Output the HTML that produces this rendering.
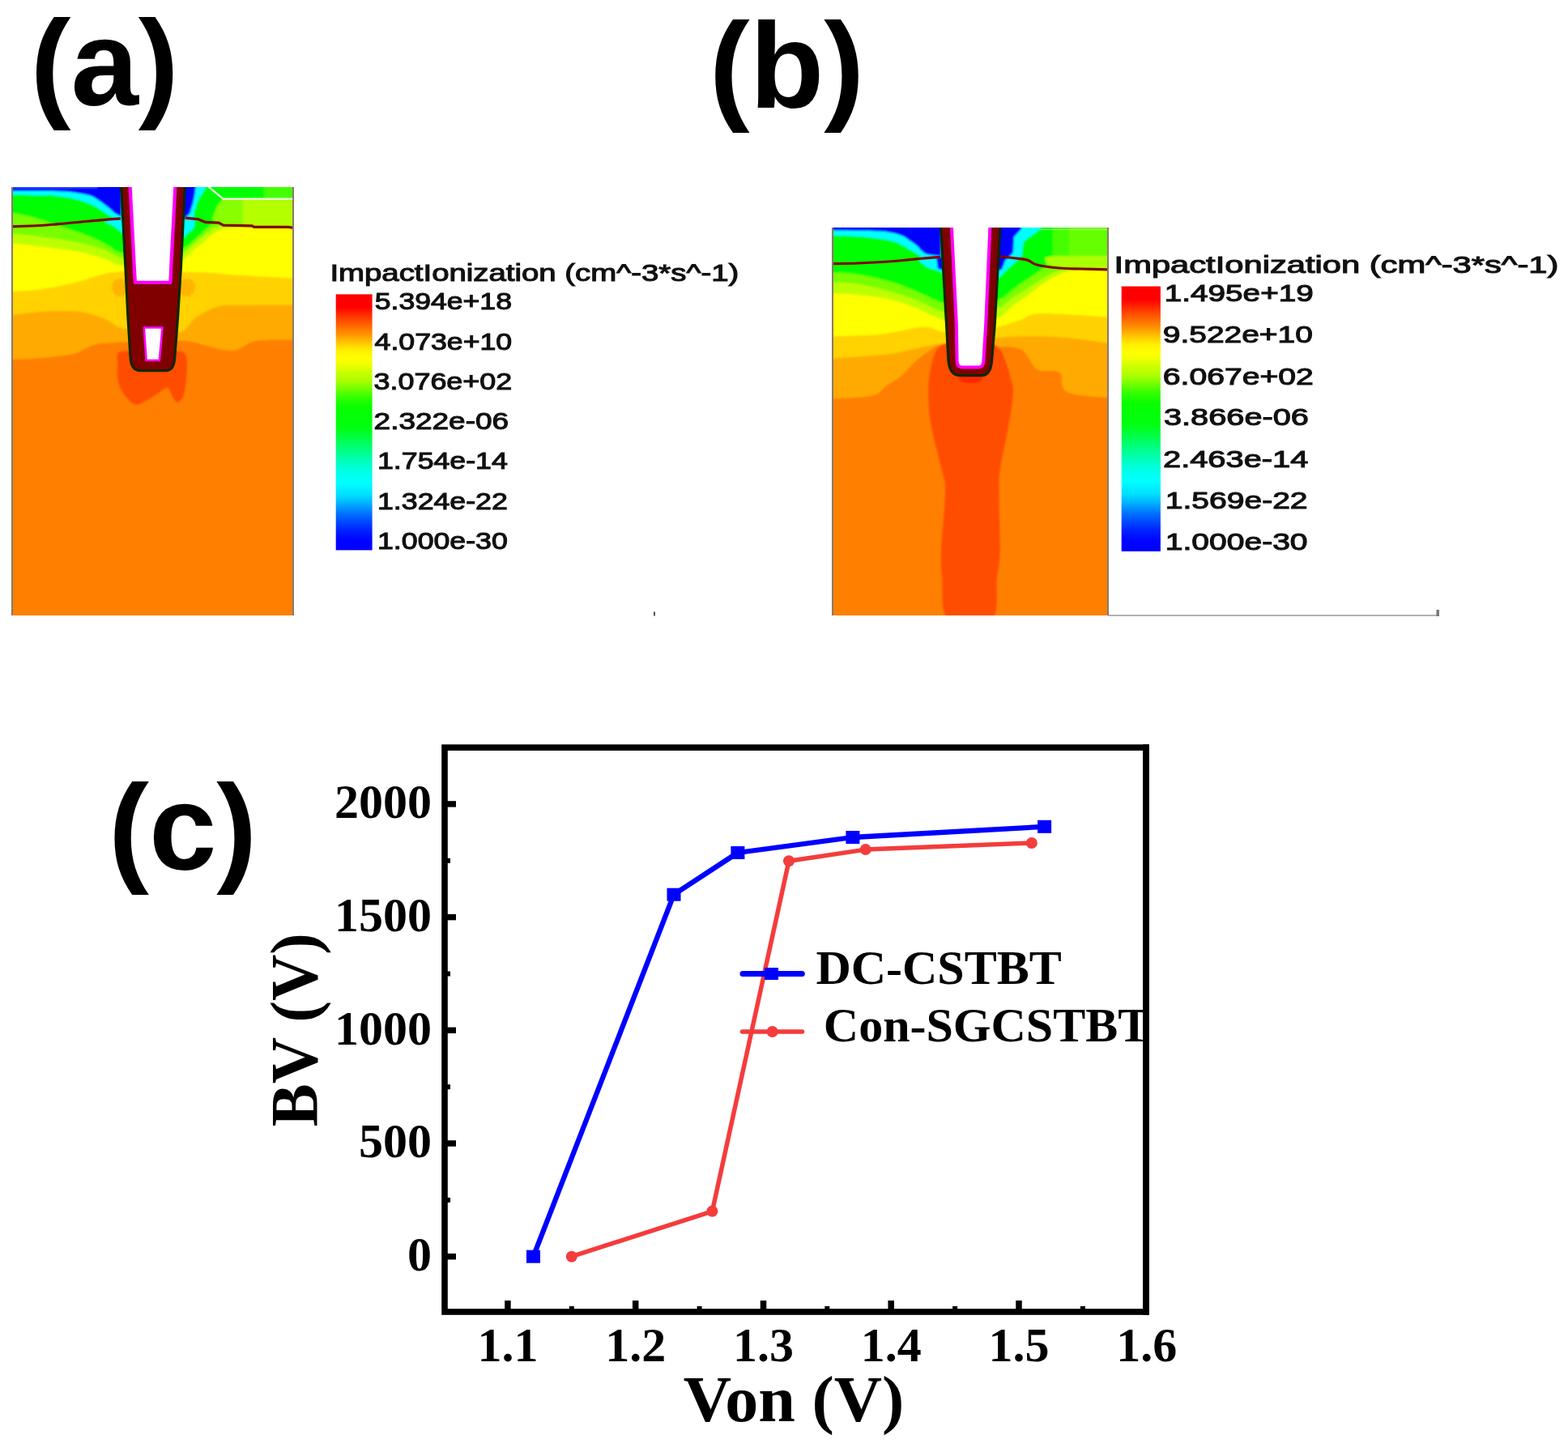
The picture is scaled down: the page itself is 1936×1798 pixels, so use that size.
<!DOCTYPE html>
<html><head><meta charset="utf-8"><title>Figure</title>
<style>
html,body{margin:0;padding:0;background:#fff;}
body{width:1936px;height:1798px;overflow:hidden;}
svg{display:block;}
.lab{font-family:"Liberation Sans",Arial,sans-serif;font-weight:bold;font-size:150px;fill:#000;}
.leg{font-family:"Liberation Sans",Arial,sans-serif;font-weight:normal;font-size:29px;fill:#111;stroke:#111;stroke-width:1.1px;}
.legt{font-size:29.5px;}
.tk{font-family:"Liberation Serif","Times New Roman",serif;font-weight:bold;font-size:60px;fill:#000;}
.ax{font-family:"Liberation Serif","Times New Roman",serif;font-weight:bold;font-size:80px;fill:#000;}
</style></head>
<body>
<svg width="1936" height="1798" viewBox="0 0 1936 1798">
<defs><linearGradient id="cb" x1="0" y1="0" x2="0" y2="1"><stop offset="0.0" stop-color="#FF0000"/><stop offset="0.05" stop-color="#FF0000"/><stop offset="0.075" stop-color="#FF2400"/><stop offset="0.1" stop-color="#FF4800"/><stop offset="0.13" stop-color="#FF7000"/><stop offset="0.16" stop-color="#FF9800"/><stop offset="0.19" stop-color="#FFC800"/><stop offset="0.22" stop-color="#FFF000"/><stop offset="0.25" stop-color="#FFFF00"/><stop offset="0.27" stop-color="#F4FF00"/><stop offset="0.3" stop-color="#D0FF00"/><stop offset="0.34" stop-color="#A8FF00"/><stop offset="0.37" stop-color="#70FF00"/><stop offset="0.4" stop-color="#38FF00"/><stop offset="0.44" stop-color="#08FF00"/><stop offset="0.52" stop-color="#00FF10"/><stop offset="0.56" stop-color="#00FF40"/><stop offset="0.607" stop-color="#00FF80"/><stop offset="0.648" stop-color="#00FFB4"/><stop offset="0.689" stop-color="#00FFE4"/><stop offset="0.736" stop-color="#00FFFF"/><stop offset="0.783" stop-color="#00E0FF"/><stop offset="0.818" stop-color="#00B0FF"/><stop offset="0.853" stop-color="#0078FF"/><stop offset="0.889" stop-color="#0048FF"/><stop offset="0.924" stop-color="#0020FF"/><stop offset="0.96" stop-color="#0004FF"/><stop offset="1.0" stop-color="#0000FF"/></linearGradient>
<clipPath id="clipC"><rect x="0" y="0" width="1415" height="1798"/></clipPath>
<filter id="bl" x="-5%" y="-5%" width="110%" height="110%"><feGaussianBlur stdDeviation="1.2"/></filter>
</defs>
<rect width="1936" height="1798" fill="#fff"/>
<g id="pa"><clipPath id="clipA"><rect x="15.0" y="231.0" width="347.0" height="529.0"/></clipPath>
<g clip-path="url(#clipA)"><g filter="url(#bl)">
<rect x="10.0" y="226.0" width="357.0" height="539.0" fill="#FF7F00"/>
<path d="M10.0,443.6 C15.0,443.5 30.0,443.6 40.0,443.0 C50.0,442.4 61.0,441.2 70.0,440.0 C79.0,438.8 86.5,438.3 94.0,436.0 C101.5,433.7 107.3,428.2 115.0,426.0 C122.7,423.8 128.3,423.7 140.0,423.0 C151.7,422.3 170.2,422.3 185.0,422.0 C199.8,421.7 217.3,420.2 229.0,421.0 C240.7,421.8 247.3,425.2 255.0,427.0 C262.7,428.8 268.8,431.2 275.0,432.0 C281.2,432.8 285.0,433.8 292.0,432.0 C299.0,430.2 304.5,423.1 317.0,421.0 C329.5,418.9 358.7,419.8 367.0,419.5 L367.0,226.0 L10.0,226.0 Z" fill="#FFAA00"/>
<path d="M10.0,389.7 C16.7,388.9 38.3,385.9 50.0,385.0 C61.7,384.1 70.8,383.8 80.0,384.0 C89.2,384.2 96.7,384.3 105.0,386.0 C113.3,387.7 122.5,390.8 130.0,394.0 C137.5,397.2 140.8,402.3 150.0,405.0 C159.2,407.7 172.8,409.2 185.0,410.0 C197.2,410.8 213.5,413.0 223.0,410.0 C232.5,407.0 234.2,397.2 242.0,392.0 C249.8,386.8 260.3,381.0 270.0,378.5 C279.7,376.0 283.8,377.3 300.0,377.0 C316.2,376.7 355.8,376.8 367.0,376.7 L367.0,226.0 L10.0,226.0 Z" fill="#FFD200"/>
<path d="M10.0,360.0 C15.0,359.8 30.0,359.5 40.0,358.5 C50.0,357.5 60.0,355.9 70.0,354.0 C80.0,352.1 90.8,349.5 100.0,347.0 C109.2,344.5 117.5,340.8 125.0,339.0 C132.5,337.2 135.0,336.7 145.0,336.0 C155.0,335.3 171.0,335.0 185.0,335.0 C199.0,335.0 216.5,335.7 229.0,336.0 C241.5,336.3 250.0,336.4 260.0,337.0 C270.0,337.6 271.2,338.3 289.0,339.5 C306.8,340.7 354.0,343.2 367.0,344.0 L367.0,226.0 L10.0,226.0 Z" fill="#FFFF00"/>
<path d="M10.0,300.0 C15.0,300.5 30.0,301.8 40.0,303.0 C50.0,304.2 59.5,305.5 70.0,307.0 C80.5,308.5 93.0,309.8 103.0,312.0 C113.0,314.2 122.2,317.3 130.0,320.0 C137.8,322.7 140.8,327.0 150.0,328.0 C159.2,329.0 173.0,326.9 185.0,326.0 C197.0,325.1 212.8,325.8 222.0,322.8 C231.2,319.8 235.1,312.0 240.0,308.0 C244.9,304.0 248.0,301.7 251.7,298.7 C255.4,295.7 258.1,292.6 262.0,290.0 C265.9,287.4 268.7,284.5 275.0,283.0 C281.3,281.5 284.7,281.2 300.0,281.0 C315.3,280.8 355.8,281.8 367.0,282.0 L367.0,226.0 L10.0,226.0 Z" fill="#BBFF00"/>
<path d="M10.0,288.0 C15.0,288.5 30.0,289.8 40.0,291.0 C50.0,292.2 59.5,293.3 70.0,295.0 C80.5,296.7 93.0,298.7 103.0,301.0 C113.0,303.3 122.2,306.2 130.0,309.0 C137.8,311.8 140.8,316.8 150.0,318.0 C159.2,319.2 172.7,316.8 185.0,316.0 C197.3,315.2 215.2,315.3 224.0,313.0 C232.8,310.7 233.7,305.5 238.0,302.0 C242.3,298.5 246.0,295.2 250.0,292.0 C254.0,288.8 257.8,285.2 262.0,283.0 C266.2,280.8 268.7,279.7 275.0,279.0 C281.3,278.3 284.7,278.8 300.0,279.0 C315.3,279.2 355.8,279.8 367.0,280.0 L367.0,226.0 L10.0,226.0 Z" fill="#77FF00"/>
<path d="M10.0,262.0 C15.0,263.0 30.0,265.3 40.0,268.0 C50.0,270.7 60.0,274.7 70.0,278.0 C80.0,281.3 91.7,285.0 100.0,288.0 C108.3,291.0 114.2,293.3 120.0,296.0 C125.8,298.7 130.0,301.3 135.0,304.0 C140.0,306.7 141.7,310.7 150.0,312.0 C158.3,313.3 172.3,313.0 185.0,312.0 C197.7,311.0 216.8,308.7 226.0,306.0 C235.2,303.3 235.7,299.5 240.0,296.0 C244.3,292.5 248.3,288.3 252.0,285.0 C255.7,281.7 258.2,279.8 262.0,276.0 C265.8,272.2 268.7,266.3 275.0,262.0 C281.3,257.7 284.7,252.3 300.0,250.0 C315.3,247.7 355.8,248.3 367.0,248.0 L367.0,226.0 L10.0,226.0 Z" fill="#00FF00"/>
<polygon points="275.6,245.7 300.0,245.7 300.0,279.0 275.0,278.5 262.0,270.0 268.0,255.0" fill="#88FF00" />
<polygon points="300.0,245.7 367.0,245.7 367.0,280.0 300.0,279.0" fill="#B4FF00" />
<rect x="326" y="226.0" width="41.0" height="20.400000000000006" fill="#44FF00"/>
<path d="M10.0,240.5 C15.0,240.6 30.6,240.8 40.0,241.0 C49.4,241.2 58.0,240.8 66.2,241.5 C74.5,242.2 83.0,243.7 89.5,245.0 C96.0,246.3 99.8,247.6 105.0,249.5 C110.2,251.4 116.0,254.0 120.5,256.5 C125.0,259.0 128.8,262.5 132.0,264.5 C135.2,266.5 136.8,267.3 139.8,268.5 C142.8,269.7 148.3,271.0 150.0,271.5 L150.0,226.0 L10.0,226.0 Z" fill="#00FFFF"/>
<path d="M10.0,236.0 C16.7,236.0 38.7,235.9 50.0,236.0 C61.3,236.1 70.7,236.2 77.9,236.5 C85.1,236.8 88.9,237.4 93.4,238.0 C97.9,238.6 101.8,239.3 105.0,240.0 C108.2,240.7 109.5,240.5 112.7,242.0 C115.9,243.5 120.4,246.3 124.3,249.0 C128.2,251.7 133.0,255.6 136.0,258.0 C139.0,260.4 139.9,261.9 142.2,263.5 C144.5,265.1 148.7,266.8 150.0,267.5 L150.0,226.0 L10.0,226.0 Z" fill="#0000FF"/>
<rect x="10.0" y="226.0" width="110" height="6.5" fill="#3050FF"/>
<path d="M130.0,273.0 C132.0,271.7 146.3,267.5 150.0,270.0 C153.7,272.5 152.7,285.8 152.0,288.0 C151.3,290.2 148.3,284.7 146.0,283.0 C143.7,281.3 140.7,279.7 138.0,278.0 C135.3,276.3 128.0,274.3 130.0,273.0Z" fill="#00FFFF" />
<path d="M226.0,226.0 C230.7,215.5 249.5,224.8 254.0,226.0 C258.5,227.2 254.0,230.7 253.2,233.0 C252.4,235.3 250.5,237.5 249.0,240.0 C247.5,242.5 245.6,245.0 244.3,248.0 C243.0,251.0 241.8,255.3 241.0,258.0 C240.2,260.7 239.6,261.2 239.5,264.0 C239.4,266.8 240.8,271.8 240.6,275.0 C240.3,278.2 239.4,280.9 238.0,283.0 C236.6,285.1 234.0,286.5 232.0,287.5 C230.0,288.5 227.0,299.2 226.0,289.0 C225.0,278.8 221.3,236.5 226.0,226.0Z" fill="#00FFFF" />
<path d="M226.0,226.0 C228.7,219.0 239.4,224.8 242.0,226.0 C244.6,227.2 241.8,229.3 241.3,233.0 C240.8,236.7 239.9,243.8 239.0,248.0 C238.1,252.2 236.7,255.5 236.0,258.0 C235.3,260.5 235.6,261.4 234.6,263.0 C233.6,264.6 231.4,266.7 230.0,267.5 C228.6,268.3 226.7,274.9 226.0,268.0 C225.3,261.1 223.3,233.0 226.0,226.0Z" fill="#0000FF" />
<ellipse cx="148" cy="355" rx="10" ry="11" fill="#FFB400"/>
<ellipse cx="231" cy="355" rx="10" ry="11" fill="#FFB400"/>
<path d="M146.0,436.0 C148.5,433.2 153.0,433.7 160.0,433.0 C167.0,432.3 178.8,432.0 188.0,432.0 C197.2,432.0 208.3,432.3 215.0,433.0 C221.7,433.7 225.3,433.2 228.0,436.0 C230.7,438.8 230.7,444.7 231.0,450.0 C231.3,455.3 230.7,461.7 230.0,468.0 C229.3,474.3 228.8,483.2 227.0,488.0 C225.2,492.8 221.3,496.7 219.0,497.0 C216.7,497.3 215.0,493.0 213.0,490.0 C211.0,487.0 209.5,480.0 207.0,479.0 C204.5,478.0 201.8,481.7 198.0,484.0 C194.2,486.3 188.8,490.3 184.0,493.0 C179.2,495.7 173.3,500.0 169.0,500.0 C164.7,500.0 161.3,496.3 158.0,493.0 C154.7,489.7 151.2,484.7 149.0,480.0 C146.8,475.3 145.7,470.0 145.0,465.0 C144.3,460.0 144.8,454.8 145.0,450.0 C145.2,445.2 143.5,438.8 146.0,436.0Z" fill="#FF4D00" />
</g>
<path d="M257.7,231.0 L275.6,245.7 L362.0,245.7" fill="none" stroke="#F4FFF0" stroke-width="2.2" stroke-linejoin="round" />
<path d="M15.0,279.8 C20.7,279.6 39.8,279.0 49.0,278.5 C58.2,278.0 63.2,277.4 70.0,276.8 C76.8,276.2 83.7,275.6 89.5,275.0 C95.3,274.4 99.2,274.0 105.0,273.5 C110.8,273.0 116.7,272.4 124.0,271.8 C131.3,271.2 144.8,270.1 149.0,269.8" fill="none" stroke="#800000" stroke-width="3.2" stroke-linejoin="round" />
<path d="M228.7,269.1 L244.3,270.6 L253.2,274.3 L270.3,275.1 L275.6,278.1 L311.3,278.8 L313.5,280.3 L355.9,280.3 L362.0,281.4" fill="none" stroke="#800000" stroke-width="3.2" stroke-linejoin="round" />
<path d="M149.5,229.0 L154.9,330 L158,392.3 L161.1,442 C161.8,452 165,457.7 173,457.7 L205,457.7 C212,457.7 215,452 215.7,442 L219.5,392.3 L223.4,330 L228.3,229.0 Z" fill="#800000" stroke="#0d2600" stroke-width="3.2" stroke-linejoin="round"/>
<polygon points="160.5,228.0 165.8,330.0 166.9,348.8 210.4,348.8 211.2,330.0 216.5,228.0" fill="#FFFFFF" stroke="#FF00FF" stroke-width="4.2" stroke-linejoin="round"/>
<polygon points="177.8,404.5 200.5,404.5 196.8,445.0 180.6,445.0" fill="#FFFFFF" stroke="#FF00FF" stroke-width="2.6" stroke-linejoin="round"/>
</g>
<line x1="15.0" y1="231.0" x2="15.0" y2="760.0" stroke="#8a7a66" stroke-width="2"/>
<line x1="362.0" y1="231.0" x2="362.0" y2="760.0" stroke="#8a7a66" stroke-width="2"/></g><g id="pb"><clipPath id="clipB"><rect x="1028.0" y="281.0" width="340.0" height="479.0"/></clipPath>
<g clip-path="url(#clipB)"><g filter="url(#bl)">
<rect x="1023.0" y="276.0" width="350.0" height="489.0" fill="#FF7F00"/>
<path d="M1023.0,492.5 C1031.8,491.9 1064.2,491.4 1076.0,488.8 C1087.8,486.2 1087.8,480.9 1094.0,476.7 C1100.2,472.5 1106.7,469.0 1113.0,463.7 C1119.3,458.4 1126.0,449.9 1131.6,445.0 C1137.2,440.1 1141.5,437.1 1146.4,434.0 C1151.3,430.9 1152.4,427.8 1161.0,426.5 C1169.6,425.2 1186.2,425.8 1198.0,426.0 C1209.8,426.2 1221.4,427.0 1232.0,428.0 C1242.6,429.0 1253.7,427.3 1261.7,432.0 C1269.8,436.7 1272.5,451.3 1280.3,456.0 C1288.0,460.7 1302.0,455.3 1308.2,460.0 C1314.4,464.7 1306.7,478.7 1317.5,484.0 C1328.3,489.3 1363.8,490.3 1373.0,491.6 L1373.0,276.0 L1023.0,276.0 Z" fill="#FFAA00"/>
<path d="M1023.0,443.2 C1034.9,442.3 1077.6,439.5 1094.4,437.6 C1111.2,435.7 1114.8,433.9 1124.1,432.0 C1133.4,430.1 1143.4,427.7 1150.2,426.5 C1157.0,425.3 1157.0,425.5 1165.0,424.6 C1173.0,423.7 1186.5,422.3 1198.0,421.0 C1209.5,419.7 1221.8,417.9 1234.0,417.0 C1246.2,416.1 1257.1,415.3 1271.0,415.3 C1284.9,415.3 1300.5,415.4 1317.5,417.0 C1334.5,418.6 1363.8,423.3 1373.0,424.6 L1373.0,276.0 L1023.0,276.0 Z" fill="#FFD200"/>
<path d="M1023.0,415.3 C1030.8,415.1 1057.2,414.7 1070.0,414.0 C1082.8,413.3 1090.0,412.5 1100.0,411.0 C1110.0,409.5 1122.3,406.2 1130.0,405.0 C1137.7,403.8 1140.6,403.2 1146.4,404.0 C1152.2,404.8 1156.4,409.0 1165.0,410.0 C1173.6,411.0 1186.8,411.0 1198.0,410.0 C1209.2,409.0 1221.7,406.5 1232.0,404.0 C1242.3,401.5 1252.0,397.8 1260.0,395.0 C1268.0,392.2 1268.3,388.4 1280.0,387.4 C1291.7,386.4 1314.5,388.2 1330.0,389.0 C1345.5,389.8 1365.8,391.5 1373.0,392.0 L1373.0,276.0 L1023.0,276.0 Z" fill="#FFFF00"/>
<path d="M1023.0,362.0 C1029.2,362.3 1047.2,362.7 1060.0,364.0 C1072.8,365.3 1088.3,367.3 1100.0,370.0 C1111.7,372.7 1119.7,376.0 1130.0,380.0 C1140.3,384.0 1150.7,390.7 1162.0,394.0 C1173.3,397.3 1186.2,400.3 1198.0,400.0 C1209.8,399.7 1224.3,395.7 1233.0,392.0 C1241.7,388.3 1243.8,382.7 1250.0,378.0 C1256.2,373.3 1263.3,368.8 1270.0,364.0 C1276.7,359.2 1283.3,353.3 1290.0,349.0 C1296.7,344.7 1303.3,340.5 1310.0,338.0 C1316.7,335.5 1319.5,334.7 1330.0,334.0 C1340.5,333.3 1365.8,334.0 1373.0,334.0 L1373.0,276.0 L1023.0,276.0 Z" fill="#BBFF00"/>
<path d="M1023.0,348.0 C1029.2,348.5 1047.2,349.0 1060.0,351.0 C1072.8,353.0 1088.3,356.8 1100.0,360.0 C1111.7,363.2 1119.7,366.0 1130.0,370.0 C1140.3,374.0 1150.7,380.7 1162.0,384.0 C1173.3,387.3 1186.2,390.7 1198.0,390.0 C1209.8,389.3 1224.3,383.7 1233.0,380.0 C1241.7,376.3 1243.8,372.2 1250.0,368.0 C1256.2,363.8 1263.3,359.3 1270.0,355.0 C1276.7,350.7 1283.3,345.7 1290.0,342.0 C1296.7,338.3 1303.3,335.7 1310.0,333.0 C1316.7,330.3 1319.5,327.8 1330.0,326.0 C1340.5,324.2 1365.8,322.7 1373.0,322.0 L1373.0,276.0 L1023.0,276.0 Z" fill="#77FF00"/>
<path d="M1023.0,336.0 C1029.2,336.5 1047.2,337.0 1060.0,339.0 C1072.8,341.0 1088.3,344.7 1100.0,348.0 C1111.7,351.3 1119.7,354.8 1130.0,359.0 C1140.3,363.2 1150.7,369.8 1162.0,373.0 C1173.3,376.2 1186.2,378.5 1198.0,378.0 C1209.8,377.5 1224.3,373.3 1233.0,370.0 C1241.7,366.7 1245.2,361.5 1250.0,358.0 C1254.8,354.5 1257.0,352.5 1262.0,349.0 C1267.0,345.5 1273.7,341.5 1280.0,337.0 C1286.3,332.5 1293.3,326.2 1300.0,322.0 C1306.7,317.8 1307.8,314.3 1320.0,312.0 C1332.2,309.7 1364.2,308.7 1373.0,308.0 L1373.0,276.0 L1023.0,276.0 Z" fill="#00FF00"/>
<rect x="1300" y="276.0" width="73.0" height="40.0" fill="#44FF00"/>
<rect x="1320" y="276.0" width="53.0" height="40.0" fill="#66FF00"/>
<polygon points="1290.0,318.0 1300.0,316.0 1373.0,316.0 1373.0,333.0 1335.0,332.0 1307.8,331.0 1292.0,326.0" fill="#AAFF00" />
<path d="M1023.0,290.5 C1029.2,290.8 1051.2,291.5 1060.0,292.0 C1068.8,292.5 1068.5,292.6 1075.8,293.6 C1083.1,294.6 1096.0,295.9 1103.7,298.2 C1111.5,300.5 1116.9,304.6 1122.3,307.5 C1127.7,310.4 1131.6,313.8 1136.2,315.9 C1140.8,318.0 1145.7,319.0 1150.0,320.0 C1154.3,321.0 1160.0,321.7 1162.0,322.0 L1162.0,276.0 L1023.0,276.0 Z" fill="#00FFFF"/>
<path d="M1023.0,284.5 C1029.2,284.6 1048.1,284.7 1060.0,285.0 C1071.9,285.3 1085.6,285.2 1094.4,286.2 C1103.2,287.2 1108.3,289.1 1113.0,290.8 C1117.7,292.5 1119.2,294.4 1122.3,296.4 C1125.4,298.4 1128.5,300.3 1131.6,302.9 C1134.7,305.5 1137.8,310.2 1140.9,312.2 C1144.0,314.2 1146.5,314.3 1150.0,315.0 C1153.5,315.7 1160.0,316.2 1162.0,316.5 L1162.0,276.0 L1023.0,276.0 Z" fill="#0000FF"/>
<path d="M1135.0,319.0 C1137.8,316.8 1157.2,314.2 1162.0,317.0 C1166.8,319.8 1164.7,333.2 1164.0,336.0 C1163.3,338.8 1161.2,335.0 1158.0,334.0 C1154.8,333.0 1148.8,332.5 1145.0,330.0 C1141.2,327.5 1132.2,321.2 1135.0,319.0Z" fill="#00FFFF" />
<polygon points="1156.0,318.0 1164.0,317.0 1165.0,334.0 1158.0,332.0" fill="#0000FF" />
<polygon points="1231.0,276.0 1290.0,276.0 1283.0,284.0 1263.6,298.6 1261.6,316.0 1251.0,326.0 1240.0,336.0 1233.0,343.7 1231.0,344.0" fill="#00FFFF" />
<polygon points="1231.0,276.0 1262.0,276.0 1260.7,283.0 1252.0,292.7 1251.0,312.0 1241.0,322.0 1237.0,333.0 1231.0,334.0" fill="#0000FF" />
<path d="M1161.3,426.5 C1169.6,420.8 1186.2,423.7 1198.0,424.0 C1209.8,424.3 1223.5,420.8 1232.0,428.3 C1240.5,435.9 1245.6,458.8 1248.7,469.3 C1251.8,479.9 1251.5,480.2 1250.6,491.6 C1249.7,503.1 1245.6,524.1 1243.1,538.0 C1240.6,551.9 1237.3,564.0 1235.7,575.2 C1234.1,586.4 1233.7,587.5 1233.5,605.0 C1233.3,622.5 1235.2,661.7 1234.8,680.0 C1234.4,698.3 1232.7,700.8 1231.0,715.0 C1229.3,729.2 1234.6,756.7 1224.5,765.0 C1214.4,773.3 1180.8,773.8 1170.6,765.0 C1160.3,756.2 1164.4,726.2 1163.0,712.0 C1161.6,697.8 1161.3,697.8 1162.0,680.0 C1162.7,662.2 1167.1,622.5 1167.0,605.0 C1166.9,587.5 1164.1,587.9 1161.3,575.2 C1158.5,562.5 1152.7,542.1 1150.2,528.8 C1147.7,515.5 1146.7,507.1 1146.4,495.3 C1146.1,483.5 1145.8,469.6 1148.3,458.1 C1150.8,446.6 1153.0,432.2 1161.3,426.5Z" fill="#FF4D00" />
<ellipse cx="1198.5" cy="467" rx="15" ry="6.5" fill="#FF2800"/>
</g>
<path d="M1283.0,283.5 L1368.0,283.5" fill="none" stroke="#CCFFAA" stroke-width="1.2" stroke-linejoin="round" opacity="0.7"/>
<path d="M1028.0,325.7 C1033.3,325.6 1049.7,325.4 1060.0,325.0 C1070.3,324.6 1081.7,324.0 1090.0,323.5 C1098.3,323.0 1102.5,322.7 1110.0,322.0 C1117.5,321.3 1126.5,320.3 1135.0,319.5 C1143.5,318.7 1156.7,317.7 1161.0,317.3" fill="none" stroke="#800000" stroke-width="3.2" stroke-linejoin="round" />
<path d="M1233.0,316.2 C1235.8,316.6 1244.1,317.7 1250.0,318.5 C1255.9,319.3 1263.5,319.7 1268.5,321.1 C1273.5,322.5 1273.8,325.4 1280.3,327.0 C1286.8,328.6 1298.7,330.2 1307.8,331.0 C1316.9,331.8 1325.0,331.7 1335.0,332.0 C1345.0,332.3 1362.5,332.8 1368.0,332.9" fill="none" stroke="#800000" stroke-width="3.2" stroke-linejoin="round" />
<path d="M1161.5,279.0 L1168.5,399.6 L1170.8,442 C1171.3,456 1176,463.7 1185,463.7 L1212,463.7 C1220,463.7 1224.3,456 1224.8,442 L1228.3,399.6 L1235,279.0 Z" fill="#800000" stroke="#0d2600" stroke-width="3.2" stroke-linejoin="round"/>
<path d="M1174.8,278.0 L1180.8,399 L1181.6,446 C1181.8,451 1184,453.6 1188,453.6 L1208,453.6 C1212,453.6 1214.2,451 1214.4,446 L1217.2,399.6 L1222.5,278.0 Z" fill="#FFFFFF" stroke="#FF00FF" stroke-width="4.0" stroke-linejoin="round"/>
</g>
<line x1="1028.0" y1="281.0" x2="1028.0" y2="760.0" stroke="#8a7a66" stroke-width="2"/>
<line x1="1368.0" y1="281.0" x2="1368.0" y2="760.0" stroke="#8a7a66" stroke-width="2"/></g><line x1="1368" y1="760" x2="1777" y2="760" stroke="#9a9a9a" stroke-width="1.6"/><rect x="1773.5" y="753" width="3.5" height="8" fill="#777"/><rect x="807" y="755.5" width="2" height="5" fill="#555"/>
<text x="37.5" y="129.8" class="lab">(a)</text><text x="875.7" y="132.8" class="lab">(b)</text><text x="134.0" y="1074.2" class="lab">(c)</text><rect x="414.7" y="363.4" width="44.900000000000034" height="316.0" fill="url(#cb)"/><text x="407.4" y="347.2" class="leg legt" textLength="504.9" lengthAdjust="spacingAndGlyphs">ImpactIonization (cm^-3*s^-1)</text><text x="462.7" y="382.3" class="leg" textLength="169.3" lengthAdjust="spacingAndGlyphs">5.394e+18</text><text x="462.6" y="431.6" class="leg" textLength="169.60000000000002" lengthAdjust="spacingAndGlyphs">4.073e+10</text><text x="461.6" y="481.3" class="leg" textLength="170.60000000000002" lengthAdjust="spacingAndGlyphs">3.076e+02</text><text x="461.6" y="530.4" class="leg" textLength="166.5" lengthAdjust="spacingAndGlyphs">2.322e-06</text><text x="466.0" y="579.3" class="leg" textLength="160.79999999999995" lengthAdjust="spacingAndGlyphs">1.754e-14</text><text x="466.0" y="629.0" class="leg" textLength="160.79999999999995" lengthAdjust="spacingAndGlyphs">1.324e-22</text><text x="466.0" y="678.1" class="leg" textLength="160.79999999999995" lengthAdjust="spacingAndGlyphs">1.000e-30</text><rect x="1384.7" y="353.6" width="48.200000000000045" height="327.19999999999993" fill="url(#cb)"/><text x="1375.6" y="337.2" class="leg legt" textLength="548.8000000000002" lengthAdjust="spacingAndGlyphs">ImpactIonization (cm^-3*s^-1)</text><text x="1437.8" y="372.2" class="leg" textLength="184.0" lengthAdjust="spacingAndGlyphs">1.495e+19</text><text x="1435.8" y="423.2" class="leg" textLength="185.0" lengthAdjust="spacingAndGlyphs">9.522e+10</text><text x="1435.8" y="474.8" class="leg" textLength="186.0" lengthAdjust="spacingAndGlyphs">6.067e+02</text><text x="1437.0" y="525.4" class="leg" textLength="178.9000000000001" lengthAdjust="spacingAndGlyphs">3.866e-06</text><text x="1436.0" y="577.4" class="leg" textLength="179.4000000000001" lengthAdjust="spacingAndGlyphs">2.463e-14</text><text x="1438.8" y="628.1" class="leg" textLength="175.79999999999995" lengthAdjust="spacingAndGlyphs">1.569e-22</text><text x="1438.8" y="679.3" class="leg" textLength="175.79999999999995" lengthAdjust="spacingAndGlyphs">1.000e-30</text>
<rect x="549.0" y="923.1" width="866.0" height="696.9" fill="none" stroke="#000" stroke-width="7.6"/><line x1="626.9" y1="1620.0" x2="626.9" y2="1606.0" stroke="#000" stroke-width="7.5"/><text x="626.9" y="1680.5" class="tk" text-anchor="middle">1.1</text><line x1="784.7" y1="1620.0" x2="784.7" y2="1606.0" stroke="#000" stroke-width="7.5"/><text x="784.7" y="1680.5" class="tk" text-anchor="middle">1.2</text><line x1="942.5" y1="1620.0" x2="942.5" y2="1606.0" stroke="#000" stroke-width="7.5"/><text x="942.5" y="1680.5" class="tk" text-anchor="middle">1.3</text><line x1="1100.2" y1="1620.0" x2="1100.2" y2="1606.0" stroke="#000" stroke-width="7.5"/><text x="1100.2" y="1680.5" class="tk" text-anchor="middle">1.4</text><line x1="1258.0" y1="1620.0" x2="1258.0" y2="1606.0" stroke="#000" stroke-width="7.5"/><text x="1258.0" y="1680.5" class="tk" text-anchor="middle">1.5</text><text x="1415.8" y="1680.5" class="tk" text-anchor="middle">1.6</text><line x1="705.8" y1="1620.0" x2="705.8" y2="1613.0" stroke="#000" stroke-width="6"/><line x1="863.6" y1="1620.0" x2="863.6" y2="1613.0" stroke="#000" stroke-width="6"/><line x1="1021.3" y1="1620.0" x2="1021.3" y2="1613.0" stroke="#000" stroke-width="6"/><line x1="1179.1" y1="1620.0" x2="1179.1" y2="1613.0" stroke="#000" stroke-width="6"/><line x1="1336.9" y1="1620.0" x2="1336.9" y2="1613.0" stroke="#000" stroke-width="6"/><line x1="549.0" y1="1551.7" x2="563.0" y2="1551.7" stroke="#000" stroke-width="7.5"/><text x="533" y="1569.0" class="tk" text-anchor="end">0</text><line x1="549.0" y1="1412.0" x2="563.0" y2="1412.0" stroke="#000" stroke-width="7.5"/><text x="533" y="1429.3" class="tk" text-anchor="end">500</text><line x1="549.0" y1="1272.3" x2="563.0" y2="1272.3" stroke="#000" stroke-width="7.5"/><text x="533" y="1289.6" class="tk" text-anchor="end">1000</text><line x1="549.0" y1="1132.6" x2="563.0" y2="1132.6" stroke="#000" stroke-width="7.5"/><text x="533" y="1149.9" class="tk" text-anchor="end">1500</text><line x1="549.0" y1="992.9" x2="563.0" y2="992.9" stroke="#000" stroke-width="7.5"/><text x="533" y="1010.2" class="tk" text-anchor="end">2000</text><line x1="549.0" y1="1481.9" x2="556.0" y2="1481.9" stroke="#000" stroke-width="6"/><line x1="549.0" y1="1342.2" x2="556.0" y2="1342.2" stroke="#000" stroke-width="6"/><line x1="549.0" y1="1202.5" x2="556.0" y2="1202.5" stroke="#000" stroke-width="6"/><line x1="549.0" y1="1062.8" x2="556.0" y2="1062.8" stroke="#000" stroke-width="6"/><polyline points="705.8,1551.7 879.4,1495.8 974.0,1063.3 1068.7,1049.1 1273.8,1041.0" fill="none" stroke="#F43C3C" stroke-width="5.5" stroke-linejoin="round"/><circle cx="705.8" cy="1551.7" r="7" fill="#F43C3C"/><circle cx="879.4" cy="1495.8" r="7" fill="#F43C3C"/><circle cx="974.0" cy="1063.3" r="7" fill="#F43C3C"/><circle cx="1068.7" cy="1049.1" r="7" fill="#F43C3C"/><circle cx="1273.8" cy="1041.0" r="7" fill="#F43C3C"/><polyline points="658.5,1551.7 832.0,1104.7 910.9,1053.0 1052.9,1034.0 1289.6,1020.8" fill="none" stroke="#0000FF" stroke-width="6.3" stroke-linejoin="round"/><rect x="650.0" y="1543.7" width="17" height="16" fill="#0000FF"/><rect x="823.5" y="1096.7" width="17" height="16" fill="#0000FF"/><rect x="902.4" y="1045.0" width="17" height="16" fill="#0000FF"/><rect x="1044.4" y="1026.0" width="17" height="16" fill="#0000FF"/><rect x="1281.1" y="1012.8" width="17" height="16" fill="#0000FF"/><line x1="917" y1="1202.4" x2="990.3" y2="1202.4" stroke="#0000FF" stroke-width="7" stroke-linecap="round"/><rect x="944" y="1195" width="17" height="15" fill="#0000FF"/><line x1="916.5" y1="1274" x2="990.5" y2="1274" stroke="#F43C3C" stroke-width="5.5" stroke-linecap="round"/><circle cx="953.6" cy="1274" r="7" fill="#F43C3C"/><text x="1007.4" y="1214.6" class="tk">DC-CSTBT</text><text x="1016.8" y="1286" class="tk" clip-path="url(#clipC)">Con-SGCSTBT</text><line x1="1415.0" y1="919.3000000000001" x2="1415.0" y2="1623.8" stroke="#000" stroke-width="7.6"/><text x="980" y="1754.7" class="ax" text-anchor="middle" textLength="272.7" lengthAdjust="spacingAndGlyphs">Von (V)</text><text transform="translate(391,1271.8) rotate(-90)" x="0" y="0" class="ax" style="font-size:82px" text-anchor="middle" textLength="239" lengthAdjust="spacingAndGlyphs">BV (V)</text>
</svg>
</body></html>
